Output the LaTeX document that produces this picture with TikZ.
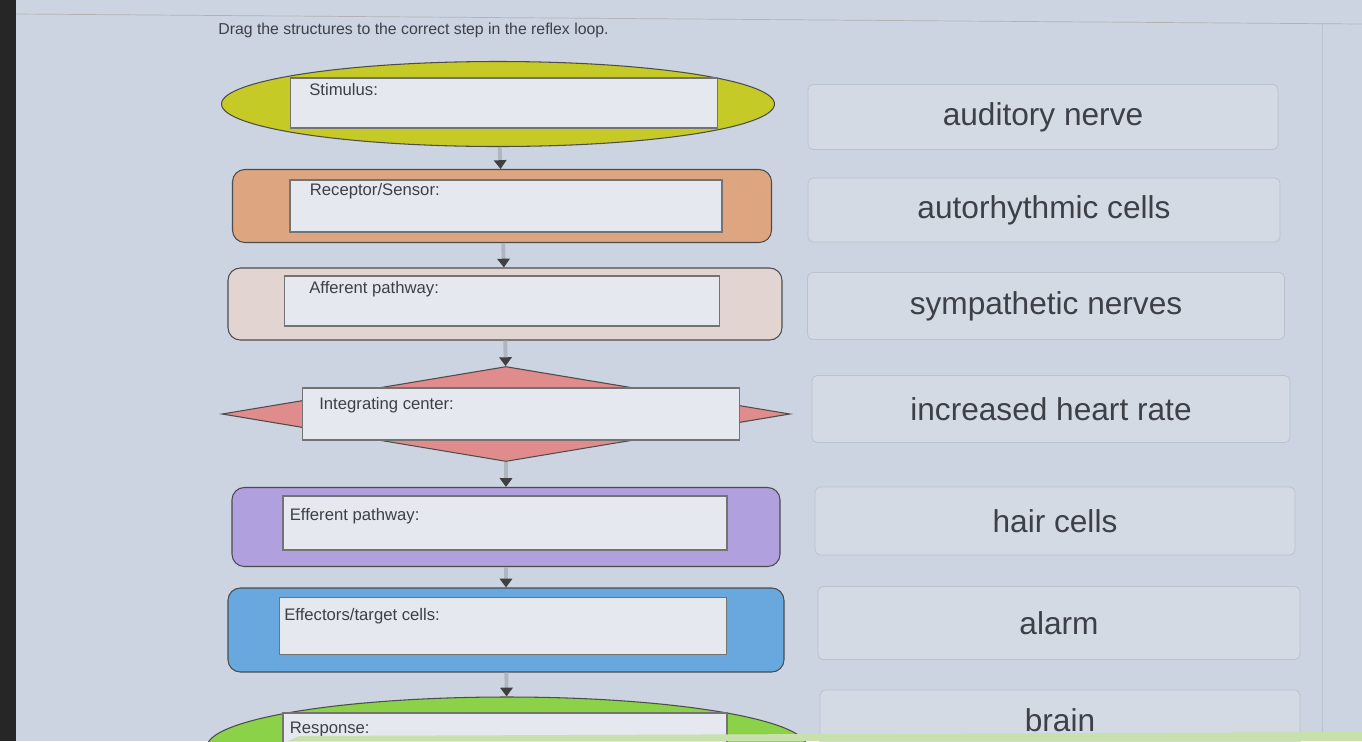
\documentclass[tikz,border=0pt]{standalone}
\usepackage{fontspec}
\setmainfont{Liberation Sans}
\usetikzlibrary{arrows.meta,shapes.geometric}

\definecolor{screenbg}{RGB}{203,212,224}
\definecolor{slotwhite}{RGB}{229,233,239}
\definecolor{textgray}{RGB}{62,64,72}
\definecolor{stimyellow}{RGB}{198,202,38}
\definecolor{recpeach}{RGB}{222,166,128}
\definecolor{affbeige}{RGB}{226,212,208}
\definecolor{integpink}{RGB}{224,140,140}
\definecolor{efflilac}{RGB}{176,160,222}
\definecolor{effblue}{RGB}{104,168,222}
\definecolor{respgreen}{RGB}{140,210,72}
\definecolor{choicefill}{RGB}{212,218,228}
\definecolor{choiceline}{RGB}{186,194,206}
\definecolor{shaftgray}{RGB}{176,182,192}
\definecolor{taskgreen}{RGB}{200,224,172}
\newcommand{\pxu}{0.02cm}

\tikzset{
  stepshape/.style={draw=black!70, line width=0.6pt, inner sep=0pt},
  slot/.style={draw=black!55, line width=0.6pt, fill=slotwhite, inner sep=0pt},
  slottext/.style={anchor=west, inner sep=0pt, text=textgray, font=\fontsize{9.5}{11}\selectfont},
  choice/.style={draw=choiceline, fill=choicefill, rounded corners=3pt, inner sep=0pt, text=textgray, font=\fontsize{18}{21}\selectfont},
  flow/.style={draw=shaftgray, line width=2.2pt, -{Triangle[length=5pt,width=7pt,color=black!75]}}
}

\begin{document}
\begin{tikzpicture}[x=\pxu,y=-\pxu]
\clip (0,0) rectangle (1362,741);
\fill[screenbg] (0,0) rectangle (1362,741);
\fill[black!85] (0,0) rectangle (16,741);
\draw[black!30] (16,14) -- (1362,24);
\draw[choiceline] (1322,24) -- (1322,741);

\node[anchor=west, inner sep=0pt, text=textgray, font=\fontsize{9}{11}\selectfont] (title) at (218,30) {Drag the structures to the correct step in the reflex loop.};

\node[stepshape, ellipse, fill=stimyellow, minimum width=553*\pxu, minimum height=85*\pxu] (stim) at (498,104) {};
\node[slot, minimum width=427*\pxu, minimum height=50*\pxu] (stimslot) at (504,103) {};
\node[slottext] (stimtxt) at ([shift={(19,12)}]stimslot.north west) {Stimulus:};

\node[stepshape, rounded corners=7pt, fill=recpeach, minimum width=539*\pxu, minimum height=73*\pxu] (recep) at (502,206) {};
\node[slot, minimum width=432*\pxu, minimum height=52*\pxu] (recepslot) at (506,206) {};
\node[slottext] (receptxt) at ([shift={(20,12)}]recepslot.north west) {Receptor/Sensor:};

\node[stepshape, rounded corners=7pt, fill=affbeige, minimum width=554*\pxu, minimum height=72*\pxu] (aff) at (505,304) {};
\node[slot, minimum width=435*\pxu, minimum height=50*\pxu] (affslot) at (502,301) {};
\node[slottext] (afftxt) at ([shift={(25,14)}]affslot.north west) {Afferent pathway:};

\node[stepshape, diamond, fill=integpink, minimum width=568*\pxu, minimum height=95*\pxu] (integ) at (506,414) {};
\node[slot, minimum width=437*\pxu, minimum height=52*\pxu] (integslot) at (521,414) {};
\node[slottext] (integtxt) at ([shift={(17,18)}]integslot.north west) {Integrating center:};

\node[stepshape, rounded corners=7pt, fill=efflilac, minimum width=548*\pxu, minimum height=79*\pxu] (eff) at (506,527) {};
\node[slot, minimum width=444*\pxu, minimum height=54*\pxu] (effslot) at (505,523) {};
\node[slottext] (efftxt) at ([shift={(7,21)}]effslot.north west) {Efferent pathway:};

\node[stepshape, rounded corners=7pt, fill=effblue, minimum width=556*\pxu, minimum height=84*\pxu] (target) at (506,630) {};
\node[slot, minimum width=447*\pxu, minimum height=57*\pxu] (targetslot) at (503,626) {};
\node[slottext] (targettxt) at ([shift={(5,19)}]targetslot.north west) {Effectors/target cells:};

\node[stepshape, ellipse, fill=respgreen, minimum width=600*\pxu, minimum height=100*\pxu] (resp) at (507,747) {};
\node[slot, minimum width=444*\pxu, minimum height=56*\pxu] (respslot) at (505,741) {};
\node[slottext] (resptxt) at ([shift={(7,17)}]respslot.north west) {Response:};

\draw[flow] (stim) -- (recep);
\draw[flow] (recep) -- (aff);
\draw[flow] (aff) -- (integ);
\draw[flow] (integ) -- (eff);
\draw[flow] (eff) -- (target);
\draw[flow] (target) -- (resp);

\node[choice, minimum width=470*\pxu, minimum height=65*\pxu] (nerve) at (1043,117) {auditory nerve};
\node[choice, minimum width=472*\pxu, minimum height=64*\pxu] (autocells) at (1044,210) {autorhythmic cells};
\node[choice, minimum width=477*\pxu, minimum height=67*\pxu] (sympnerves) at (1046,306) {sympathetic nerves};
\node[choice, minimum width=478*\pxu, minimum height=67*\pxu] (heartrate) at (1051,409) {increased heart rate};
\node[choice, minimum width=480*\pxu, minimum height=68*\pxu] (haircells) at (1055,521) {hair cells};
\node[choice, minimum width=482*\pxu, minimum height=73*\pxu] (alarm) at (1059,623) {alarm};
\node[choice, minimum width=480*\pxu, minimum height=60*\pxu] (brain) at (1060,720) {brain};

\fill[taskgreen] (288,741) -- (300,736) -- (1362,732) -- (1362,741) -- cycle;
\end{tikzpicture}
\end{document}
